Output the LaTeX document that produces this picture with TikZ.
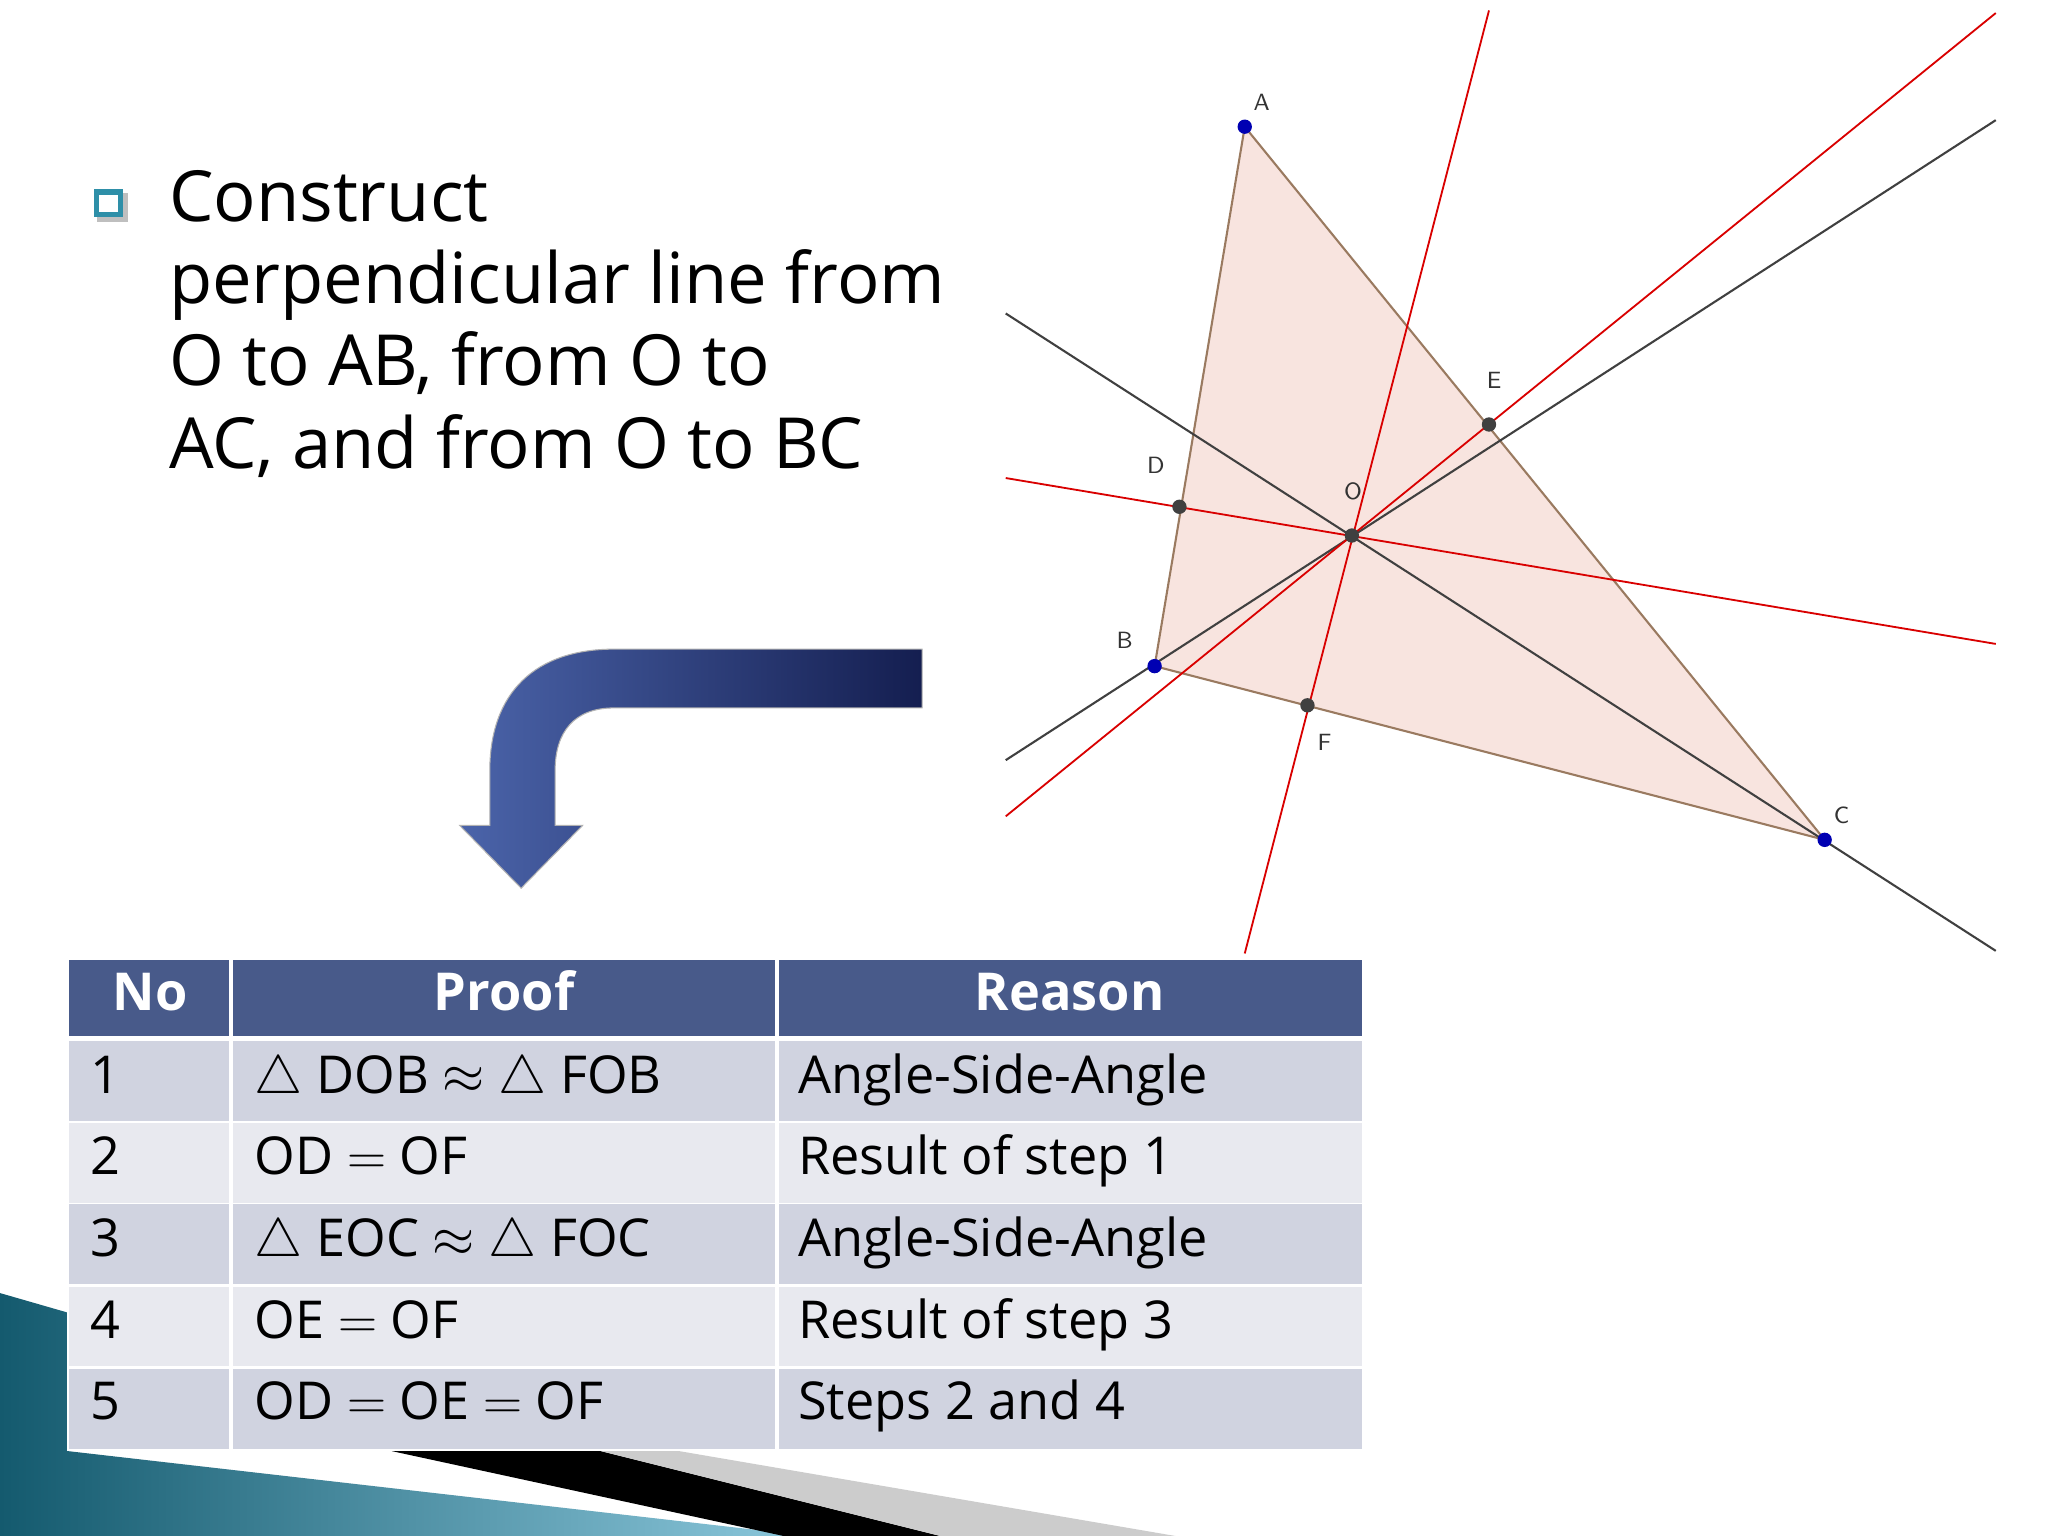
\documentclass[tikz,border=0pt]{standalone}
\usepackage{fontspec}
\setmainfont{Open Sans}
\usetikzlibrary{calc}
\definecolor{hdr}{HTML}{485A8A}
\definecolor{rowA}{HTML}{D0D3E0}
\definecolor{rowB}{HTML}{E8E9EF}
\definecolor{tri}{HTML}{F8E4DF}
\definecolor{triedge}{HTML}{9A7A60}
\definecolor{bul}{HTML}{2E8FA8}
\begin{document}
\begin{tikzpicture}[x=0.5pt,y=-0.5pt,
  pt/.style={circle,fill=#1,inner sep=0pt,minimum size=5.5pt},
  lbl/.style={font=\fontsize{9}{10}\selectfont\sffamily,text=black!80},
  cell/.style={anchor=west,font=\fontsize{20}{24}\selectfont,text height=14pt,text depth=4pt},
  hcell/.style={font=\fontsize{20}{24}\selectfont\bfseries,text=white,text height=14pt,text depth=4pt}]
\useasboundingbox (0,0) rectangle (1568,1176);
\fill[white] (0,0) rectangle (1568,1176);
% decoration bottom left
\shade[left color={rgb,255:red,20;green,90;blue,110},right color={rgb,255:red,140;green,200;blue,220}]
  (0,990) -- (52,1005) -- (52,1111) -- (620,1176) -- (0,1176) -- cycle;
\fill[black] (300,1111) -- (460,1111) -- (720,1176) -- (600,1176) -- cycle;
\fill[gray!40] (460,1111) -- (520,1111) -- (900,1176) -- (720,1176) -- cycle;
% bullet and text
\fill[gray!50] (74,148) rectangle (98,170);
\fill[bul] (72,145) rectangle (94,166);
\fill[white] (76,149) rectangle (90,162);
\node[anchor=north west,align=left,font=\fontsize{27}{31.5}\selectfont,inner sep=0pt] (txt) at (129,130)
 {Construct\\perpendicular line from\\O to AB, from O to\\AC, and from O to BC};
% geometry
\coordinate (A) at (953,97); \coordinate (B) at (884,510); \coordinate (C) at (1397,643);
\coordinate (O) at (1035,410); \coordinate (D) at (903,388); \coordinate (E) at (1140,325); \coordinate (F) at (1001,540);
\fill[tri] (A) -- (B) -- (C) -- cycle;
\draw[triedge,line width=0.8pt] (A) -- (B) -- (C) -- cycle;
\draw[black!75,line width=0.8pt] (770,582) -- (1528,92);
\draw[black!75,line width=0.8pt] (770,240) -- (1528,728);
\draw[red!85!black,line width=0.7pt] (770,366) -- (1528,493);
\draw[red!85!black,line width=0.7pt] (770,625) -- (1528,10);
\draw[red!85!black,line width=0.7pt] (953,730) -- (1140,8);
\foreach \p in {D,E,F,O} \node[pt=black!75] at (\p) {};
\foreach \p in {A,B,C} \node[pt=blue!70!black] at (\p) {};
\node[lbl] at (966,78) {A}; \node[lbl] at (861,490) {B}; \node[lbl] at (1410,624) {C};
\node[lbl] at (885,356) {D}; \node[lbl] at (1144,291) {E}; \node[lbl] at (1014,568) {F};
\node[lbl] at (1036,376) {O};
% arrow
\shade[left color={rgb,255:red,75;green,100;blue,170},right color={rgb,255:red,20;green,30;blue,80},draw=gray!60]
 (706,497) -- (470,497) .. controls (410,497) and (375,530) .. (375,590) -- (375,632) -- (352,632) -- (399,680) -- (446,632)
 -- (425,632) -- (425,590) .. controls (425,560) and (440,542) .. (470,542) -- (706,542) -- cycle;
% table
\fill[white] (51,733) rectangle (1045,1111);
\fill[hdr] (53,735) rectangle (1043,793);
\foreach \y/\c in {797/rowA,860/rowB,922/rowA,985/rowB,1048/rowA}
  \fill[\c] (53,\y) rectangle (1043,\y+61);
\draw[white,line width=1.5pt] (177,735) -- (177,1109) (595,735) -- (595,1109);
\node[hcell] (h1) at (115,764) {No};
\node[hcell] (h2) at (386,764) {Proof};
\node[hcell] (h3) at (819,764) {Reason};
\foreach \n/\y/\p/\r in {1/827/{$\triangle$ DOB $\approx$ $\triangle$ FOB}/Angle-Side-Angle,
  2/889/{OD $=$ OF}/Result of step 1,
  3/952/{$\triangle$ EOC $\approx$ $\triangle$ FOC}/Angle-Side-Angle,
  4/1015/{OE $=$ OF}/Result of step 3,
  5/1077/{OD $=$ OE $=$ OF}/Steps 2 and 4}{
  \node[cell] at (62,\y) {\n};
  \node[cell] at (188,\y) {\p};
  \node[cell] at (604,\y) {\r};
}
\end{tikzpicture}
\end{document}
